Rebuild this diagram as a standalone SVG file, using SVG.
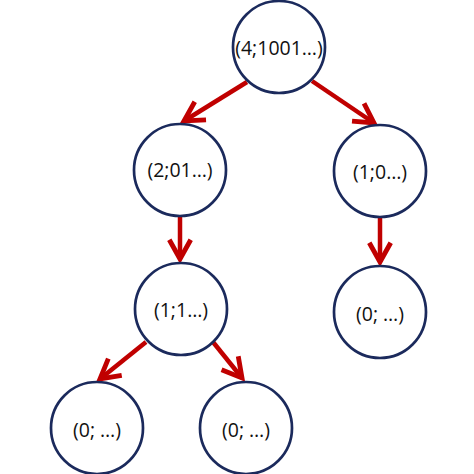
<svg xmlns="http://www.w3.org/2000/svg" width="474" height="474" viewBox="0 0 474 474">
<style>
.node circle{fill:#fff;stroke:#1b2a5c;stroke-width:2.7}
.node text{font-family:"Open Sans","Liberation Sans",sans-serif;font-size:19.5px;fill:#111;text-anchor:middle;dominant-baseline:central}
.edge{stroke:#c00000;stroke-width:4.5;fill:none}
</style>
<defs>
<marker id="ah" markerUnits="userSpaceOnUse" markerWidth="30" markerHeight="30" viewBox="-22 -14 26 28" refX="0" refY="0" orient="auto">
<path d="M-18,-10 L0,0 L-18,10" fill="none" stroke="#c00000" stroke-width="4.5" stroke-linejoin="miter"/>
</marker>
</defs>
<rect width="474" height="474" fill="#fff"/>
<g id="connectors">
<line class="edge" x1="247" y1="82" x2="184" y2="121" marker-end="url(#ah)"/>
<line class="edge" x1="312" y1="81" x2="374" y2="123" marker-end="url(#ah)"/>
<line class="edge" x1="180" y1="216" x2="180" y2="259" marker-end="url(#ah)"/>
<line class="edge" x1="380" y1="217" x2="380" y2="262" marker-end="url(#ah)"/>
<line class="edge" x1="146" y1="342" x2="100" y2="379" marker-end="url(#ah)"/>
<line class="edge" x1="213" y1="342" x2="242" y2="378" marker-end="url(#ah)"/>
</g>
<g id="n1" class="node"><circle cx="279" cy="47" r="46"/><text x="279" y="47">(4;1001…)</text></g>
<g id="n2" class="node"><circle cx="180" cy="170" r="46"/><text x="180" y="169">(2;01…)</text></g>
<g id="n3" class="node"><circle cx="380" cy="171" r="46"/><text x="380" y="171">(1;0…)</text></g>
<g id="n4" class="node"><circle cx="181" cy="309" r="46"/><text x="181" y="309">(1;1…)</text></g>
<g id="n5" class="node"><circle cx="380" cy="312" r="46"/><text x="380" y="313">(0; …)</text></g>
<g id="n6" class="node"><circle cx="97" cy="428" r="46"/><text x="97" y="429">(0; …)</text></g>
<g id="n7" class="node"><circle cx="246" cy="428" r="46"/><text x="246" y="429">(0; …)</text></g>
</svg>
